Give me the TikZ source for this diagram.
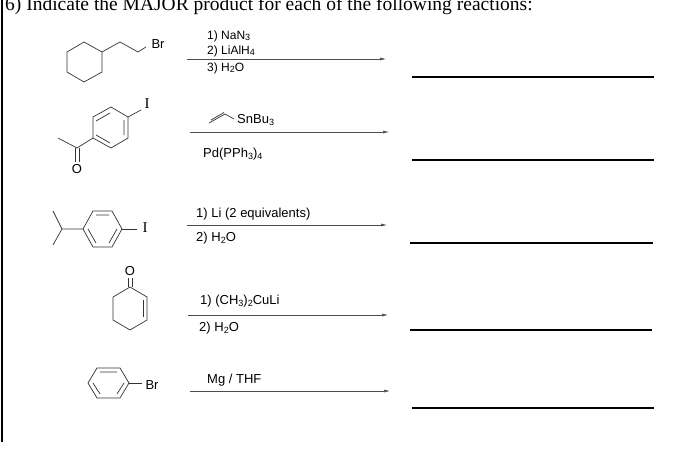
\documentclass[tikz,border=0pt]{standalone}
\usepackage{fontspec}
\setmainfont{Liberation Sans}
\newfontfamily\hdr{Liberation Serif}
\newcommand{\sbs}[1]{\raisebox{-0.25ex}{\fontsize{9}{10}\selectfont #1}}
\begin{document}
\begin{tikzpicture}[x=1pt,y=-1pt,
  bond/.style={line width=0.7pt,black!80},
  arr/.style={line width=0.6pt,black!70,-{Latex[length=6pt,width=3pt]}},
  prod/.style={line width=2pt},
  reag/.style={font=\fontsize{13}{14}\selectfont,anchor=west,inner sep=0pt},
  atom/.style={font=\fontsize{13}{14}\selectfont,inner sep=0pt},
  iod/.style={font=\hdr\fontsize{15}{16}\selectfont,inner sep=0pt}]
\usetikzlibrary{arrows.meta}
\useasboundingbox (0,0) rectangle (700,453);
\clip (0,0) rectangle (700,453);
\draw[line width=1.2pt] (2,0) -- (2,442);
\node[font=\hdr\fontsize{19.5}{20}\selectfont,anchor=west,inner sep=0pt] (hd) at (5,6) {6) Indicate the MAJOR product for each of the following reactions:};
% molecule 1
\draw[bond] (84,42)--(102,52)--(102,72)--(84,82)--(67,72)--(67,52)--cycle;
\draw[bond] (102,52)--(120,42)--(138,52)--(146,47);
\node[atom] (br1) at (158,44) {Br};
% molecule 2
\draw[bond] (111,107)--(128,117)--(128,138)--(111,148)--(93,138)--(93,117)--cycle;
\draw[bond] (96,121)--(110,113) (124,120)--(124,135) (110,143)--(96,135);
\draw[bond] (128,117)--(141,110);
\node[iod] (i2) at (147,104) {I};
\draw[bond] (93,138)--(77,148)--(58,138);
\draw[bond] (75,148)--(75,162) (79,148)--(79,162);
\node[atom] (o2) at (77,169) {O};
% molecule 3
\draw[bond] (83,229)--(93,211)--(112,211)--(122,229)--(112,247)--(93,247)--cycle;
\draw[bond] (96,215)--(109,215) (117,229)--(109,243) (96,243)--(88,229);
\draw[bond] (122,229)--(137,229);
\node[iod] (i3) at (145,228) {I};
\draw[bond] (83,229)--(62,229) (53,211)--(62,229)--(53,245);
% molecule 4
\draw[bond] (130,287)--(147,297)--(147,320)--(130,330)--(113,320)--(113,297)--cycle;
\draw[bond] (143,300)--(143,317);
\draw[bond] (128,287)--(128,278) (132,287)--(132,278);
\node[atom] (o4) at (130,271) {O};
% molecule 5
\draw[bond] (88,383)--(97,368)--(120,368)--(129,383)--(120,398)--(97,398)--cycle;
\draw[bond] (100,372)--(117,372) (124,383)--(117,394) (100,394)--(93,383);
\draw[bond] (129,383)--(142,383);
\node[atom] (br5) at (152,385) {Br};
% reaction 1
\node[reag,font=\fontsize{12}{13}\selectfont] (r1a) at (207,36) {1) NaN\sbs{3}};
\node[reag,font=\fontsize{12}{13}\selectfont] (r1b) at (207,51) {2) LiAlH\sbs{4}};
\node[reag,font=\fontsize{12}{13}\selectfont] (r1c) at (207,68) {3) H\sbs{2}O};
\coordinate (a1s) at (187,59); \coordinate (a1e) at (386,59);
\draw[arr] (a1s)--(a1e);
\coordinate (p1s) at (412,77); \coordinate (p1e) at (654,77);
\draw[prod] (p1s)--(p1e);
% reaction 2
\draw[bond] (209,123)--(225,114)--(234,119) (211,120)--(224,112.5);
\node[reag] (r2a) at (237,120) {SnBu\sbs{3}};
\node[reag] (r2b) at (203,154) {Pd(PPh\sbs{3})\sbs{4}};
\coordinate (a2s) at (190,132); \coordinate (a2e) at (389,132);
\draw[arr] (a2s)--(a2e);
\coordinate (p2s) at (412,160); \coordinate (p2e) at (654,160);
\draw[prod] (p2s)--(p2e);
% reaction 3
\node[reag] (r3a) at (196,214) {1) Li (2 equivalents)};
\node[reag] (r3b) at (196,238) {2) H\sbs{2}O};
\coordinate (a3s) at (187,225); \coordinate (a3e) at (387,225);
\draw[arr] (a3s)--(a3e);
\coordinate (p3s) at (410,243); \coordinate (p3e) at (653,243);
\draw[prod] (p3s)--(p3e);
% reaction 4
\node[reag] (r4a) at (200,301) {1) (CH\sbs{3})\sbs{2}CuLi};
\node[reag] (r4b) at (199,328) {2) H\sbs{2}O};
\coordinate (a4s) at (188,315); \coordinate (a4e) at (388,315);
\draw[arr] (a4s)--(a4e);
\coordinate (p4s) at (410,330); \coordinate (p4e) at (652,330);
\draw[prod] (p4s)--(p4e);
% reaction 5
\node[reag] (r5a) at (207,380) {Mg / THF};
\coordinate (a5s) at (190,391); \coordinate (a5e) at (390,391);
\draw[arr] (a5s)--(a5e);
\coordinate (p5s) at (412,408); \coordinate (p5e) at (654,408);
\draw[prod] (p5s)--(p5e);
\end{tikzpicture}
\end{document}
